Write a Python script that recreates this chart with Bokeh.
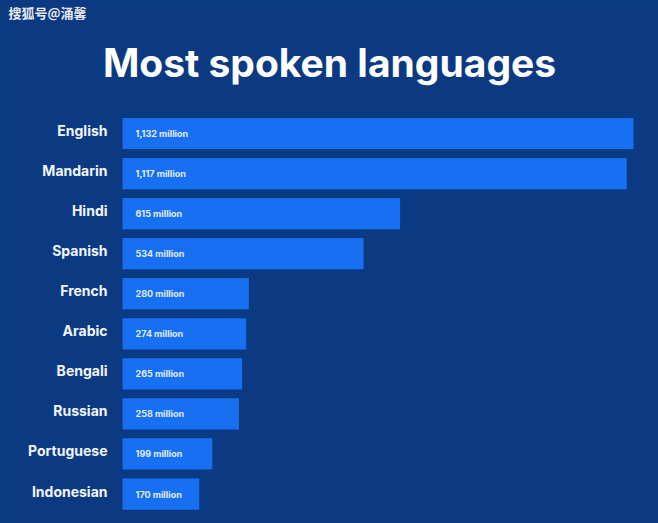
from bokeh.plotting import figure
from bokeh.models import Range1d, ColumnDataSource, Label
from bokeh.embed import file_html
from bokeh.resources import INLINE
from bokeh.core.properties import value

languages = ["English", "Mandarin", "Hindi", "Spanish", "French", "Arabic",
             "Bengali", "Russian", "Portuguese", "Indonesian"]
speakers = [1132, 1117, 615, 534, 280, 274, 265, 258, 199, 170]
value_labels = ["1,132 million", "1,117 million", "615 million", "534 million",
                "280 million", "274 million", "265 million", "258 million",
                "199 million", "170 million"]
title_text = "Most spoken languages"
watermark = "搜狐号@涌馨"

BG = "#0b3a82"
BAR = "#1770f2"

W, H = 658, 523
ppx = 0.4514          # pixels per million
x0_px = 122           # pixel of value 0
x_start = -x0_px / ppx
x_end = (W - x0_px) / ppx
row_px = 40.06
row0_px = 133
y_top = -row0_px / row_px
y_bot = (H - row0_px) / row_px

idx = list(range(len(languages)))
src = ColumnDataSource(dict(y=idx, v=speakers, lang=languages, lab=value_labels,
                            zero=[0] * len(idx)))

p = figure(width=W, height=H, output_backend="svg", toolbar_location=None,
           x_range=Range1d(x_start, x_end), y_range=Range1d(y_bot, y_top),
           x_axis_location=None, y_axis_location=None, min_border=0)
p.background_fill_color = BG
p.border_fill_color = BG
p.outline_line_color = None
p.grid.visible = False

p.hbar(y="y", left="zero", right="v", height=0.78, source=src,
       fill_color=BAR, line_color=None)

p.text(x="zero", y="y", text="lang", source=src, x_offset=-15, y_offset=-3,
       text_align="right", text_baseline="middle",
       text_font=value("Inter"), text_font_style="bold",
       text_font_size="14px", text_color="#f2f5fb")

p.text(x="zero", y="y", text="lab", source=src, x_offset=13,
       text_align="left", text_baseline="middle",
       text_font=value("Inter"), text_font_style="bold",
       text_font_size="9px", text_color="#e4ecfb")

mid_x = (x_start + x_end) / 2
p.add_layout(Label(x=mid_x, y=(62 - row0_px) / row_px, text=title_text,
                   text_align="center", text_baseline="middle",
                   text_font="Inter", text_font_style="bold",
                   text_font_size="39px", text_color="#ffffff"))
p.add_layout(Label(x=x_start, y=(12 - row0_px) / row_px, text=watermark,
                   text_align="left", text_baseline="middle", x_offset=8,
                   text_font="Noto Sans CJK SC", text_font_style="bold",
                   text_font_size="13px", text_color="#e8e8ec"))

html = file_html(p, INLINE)
html = html.replace("</head>", "<style>html,body{background:%s;}</style></head>" % BG, 1)
open("out.html", "w").write(html)
